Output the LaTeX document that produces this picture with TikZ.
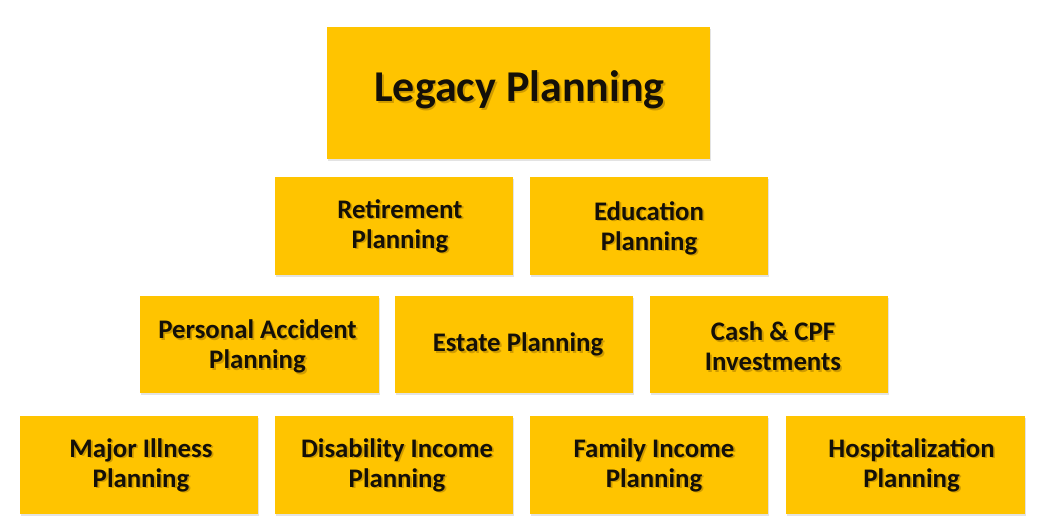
\documentclass[tikz,border=0pt]{standalone}
\usepackage{fontspec}
\setmainfont{Carlito}
\usetikzlibrary{shadows}
\definecolor{gold}{RGB}{255,196,0}
\definecolor{ink}{RGB}{20,16,8}
\definecolor{tshadow}{RGB}{120,80,0}
\tikzset{
  box/.style={fill=gold, draw=none, inner sep=0pt,
    drop shadow={shadow xshift=1pt, shadow yshift=-2pt, opacity=0.22}},
  lbl/.style={text=ink, font=\bfseries\fontsize{26.8}{30}\selectfont, align=center, inner sep=0pt},
  lblsh/.style={lbl, text=tshadow, opacity=0.35},
  big/.style={font=\bfseries\fontsize{44}{48}\selectfont},
}
% \pbox{name}{x1}{y1}{x2}{y2}{dx}{extra style}{text}
\newcommand\pbox[8]{%
  \node[box, minimum width={(#4-#2)*1pt}, minimum height={(#5-#3)*1pt}] (#1) at ({(#2+#4)/2},{(#3+#5)/2}) {};
  \node[lblsh,#7] (#1-s) at ([shift={(#6+1.8,1.8)}]#1.center) {#8};
  \node[lbl,#7] (#1-t) at ([shift={(#6,0)}]#1.center) {#8};
}
\begin{document}
\begin{tikzpicture}[x=1pt,y=-1pt]
\useasboundingbox (0,0) rectangle (1042,531);
\fill[white] (0,0) rectangle (1042,531);
\pbox{legacy}{327}{27}{710}{159}{1}{big, yshift=3pt}{Legacy Planning}
\pbox{ret}{275}{177}{513}{275}{6}{}{Retirement\\Planning}
\pbox{edu}{530}{177}{768}{275}{0}{yshift=-2pt}{Education\\Planning}
\pbox{pers}{140}{296}{379}{393}{-2}{yshift=-2pt}{Personal Accident\\Planning}
\pbox{est}{395}{296}{633}{393}{4}{}{Estate Planning}
\pbox{cash}{650}{296}{888}{393}{4}{yshift=-1.5pt}{Cash \& CPF\\Investments}
\pbox{maj}{20}{416}{258}{514}{2}{}{Major Illness\\Planning}
\pbox{dis}{275}{416}{513}{514}{3}{}{Disability Income\\Planning}
\pbox{fam}{530}{416}{768}{514}{5}{}{Family Income\\Planning}
\pbox{hosp}{786}{416}{1025}{514}{6}{}{Hospitalization\\Planning}
\end{tikzpicture}
\end{document}
